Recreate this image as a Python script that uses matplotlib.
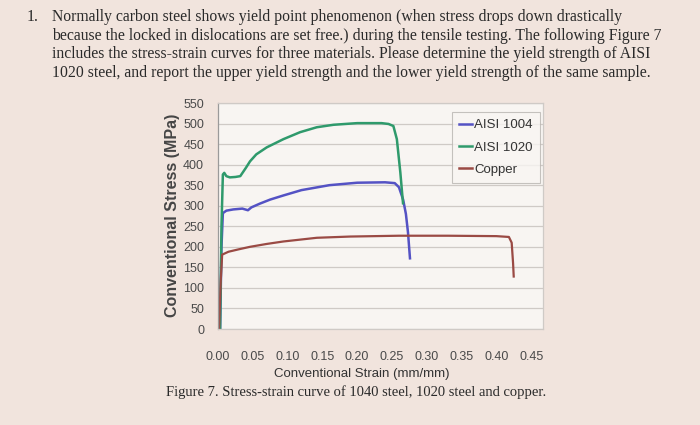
import matplotlib
matplotlib.use("Agg")
import matplotlib.pyplot as plt
from matplotlib.lines import Line2D

# ---- data ----
aisi1004_strain = [0.003, 0.005, 0.007, 0.012, 0.022, 0.035, 0.043, 0.048, 0.060, 0.075, 0.094,
                   0.120, 0.160, 0.200, 0.240, 0.254, 0.260, 0.266, 0.270, 0.273, 0.276]
aisi1004_stress = [0, 200, 282, 288, 291, 293, 289, 296, 305, 315, 325,
                   338, 350, 356, 357, 355, 345, 315, 280, 235, 169]

aisi1020_strain = [0.003, 0.005, 0.007, 0.009, 0.012, 0.017, 0.025, 0.032, 0.040, 0.046, 0.055,
                   0.070, 0.094, 0.118, 0.142, 0.166, 0.200, 0.235, 0.245, 0.252, 0.257, 0.262, 0.266]
aisi1020_stress = [0, 250, 376, 380, 372, 369, 370, 372, 392, 408, 425,
                   442, 462, 479, 491, 497, 501, 501, 499, 494, 462, 381, 303]

copper_strain = [0.0015, 0.004, 0.006, 0.015, 0.030, 0.046, 0.070, 0.094, 0.142, 0.190,
                 0.260, 0.330, 0.400, 0.418, 0.422, 0.424, 0.425]
copper_stress = [0, 120, 181, 188, 194, 200, 207, 213, 222, 225,
                 227, 227, 226, 224, 210, 160, 125]

series_names = ["AISI 1004", "AISI 1020", "Copper"]
x_ticks = [0.00, 0.05, 0.10, 0.15, 0.20, 0.25, 0.30, 0.35, 0.40, 0.45]
y_ticks = [0, 50, 100, 150, 200, 250, 300, 350, 400, 450, 500, 550]

question_lines = [
    "Normally carbon steel shows yield point phenomenon (when stress drops down drastically",
    "because the locked in dislocations are set free.) during the tensile testing. The following Figure 7",
    "includes the stress-strain curves for three materials. Please determine the yield strength of AISI",
    "1020 steel, and report the upper yield strength and the lower yield strength of the same sample.",
]
caption = "Figure 7. Stress-strain curve of 1040 steel, 1020 steel and copper."

# ---- style ----
W, H = 700, 425
c_blue = "#5452c4"
c_green = "#2f9a6c"
c_copper = "#9a4a44"
bg = "#f1e4dd"
grid_c = "#cfcac6"
tick_c = "#4a4a4a"

fig = plt.figure(figsize=(W / 100, H / 100), dpi=100, facecolor=bg)

def fx(px):
    return px / W

def fy(py):
    return 1 - py / H

left, right, top, bottom = 218, 543, 103, 329
ax = fig.add_axes([fx(left), fy(bottom), fx(right - left), (bottom - top) / H])
ax.set_facecolor("#f8f5f2")

ax.plot(aisi1004_strain, aisi1004_stress, color=c_blue, lw=1.8, solid_capstyle="butt")
ax.plot(aisi1020_strain, aisi1020_stress, color=c_green, lw=1.8, solid_capstyle="butt")
ax.plot(copper_strain, copper_stress, color=c_copper, lw=1.6, solid_capstyle="butt")

ax.set_xlim(0, 0.467)
ax.set_ylim(0, 550)
ax.set_yticks(y_ticks)
ax.set_xticks(x_ticks)
ax.set_xticklabels([f"{v:.2f}" for v in x_ticks])
ax.yaxis.grid(True, color=grid_c, lw=0.9)
ax.xaxis.grid(False)
ax.set_axisbelow(True)
for s in ax.spines.values():
    s.set_color(grid_c)
    s.set_linewidth(0.9)
ax.spines["left"].set_color("#9a9a9a")
ax.tick_params(axis="both", length=0, labelsize=9, colors=tick_c, labelfontfamily="Liberation Sans")
ax.tick_params(axis="y", pad=10)
ax.tick_params(axis="x", pad=16)

fig.text(fx(172), fy(215), "Conventional Stress (MPa)", fontsize=11.5, fontweight="bold",
         color="#454545", family="Liberation Sans", rotation=90, ha="center", va="center")
fig.text(fx(362), fy(374), "Conventional Strain (mm/mm)", fontsize=9.5, color="#333333",
         family="Liberation Sans", ha="center", va="center")

handles = [Line2D([0], [0], color=c, lw=1.8) for c in (c_blue, c_green, c_copper)]
leg = ax.legend(handles, series_names, loc="upper right",
                bbox_to_anchor=((540 - left) / (right - left), 1 - (112 - top) / (bottom - top)),
                borderaxespad=0, handlelength=1.0, handletextpad=0.15, borderpad=0.55,
                labelspacing=0.75, frameon=True, fancybox=False,
                prop={"family": "Liberation Sans", "size": 9.5})
leg.get_frame().set_edgecolor("#b8b4b0")
leg.get_frame().set_facecolor("#f8f5f2")
leg.get_frame().set_linewidth(0.8)
for t in leg.get_texts():
    t.set_color("#333333")

# question text
fig.text(fx(27), fy(21), "1.", family="Liberation Serif", fontsize=11.3, color="#2a2a2a", va="baseline")
baselines = [21, 40, 58, 77]
for line, b in zip(question_lines, baselines):
    fig.text(fx(52), fy(b), line, family="Liberation Serif", fontsize=11.3, color="#2a2a2a", va="baseline")

fig.text(fx(356), fy(392), caption, family="Liberation Serif", fontsize=10.5, color="#2a2a2a",
         ha="center", va="center")

fig.savefig("out.png", dpi=100, facecolor=bg)
